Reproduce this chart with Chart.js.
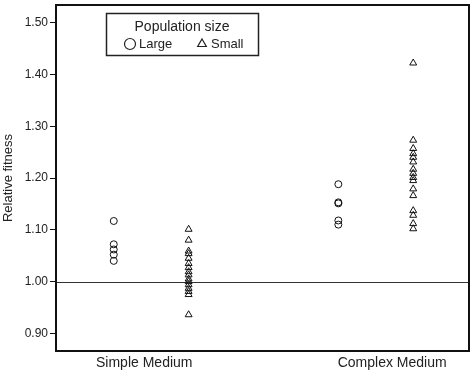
<!DOCTYPE html>
<html>
<head>
<meta charset="utf-8">
<script src="https://cdn.jsdelivr.net/npm/chart.js@4.4.0/dist/chart.umd.min.js"></script>
<style>
  html, body { margin: 0; padding: 0; background: #fff; }
  #wrap { width: 474px; height: 371px; }
</style>
</head>
<body>
<div id="wrap"><canvas id="fitnessChart"></canvas></div>
<script>
// categories on the x axis
const categories = ['Simple Medium', 'Complex Medium'];

// relative fitness values, per population size and medium
const largeSimple = [1.117, 1.072, 1.062, 1.052, 1.040];
const smallSimple = [1.101, 1.080, 1.059, 1.054, 1.045, 1.035, 1.027, 1.019, 1.013, 1.005,
                     1.000, 0.994, 0.987, 0.981, 0.975, 0.936];
const largeComplex = [1.188, 1.153, 1.151, 1.118, 1.110];
const smallComplex = [1.422, 1.273, 1.257, 1.247, 1.240, 1.231, 1.217, 1.209, 1.201, 1.195,
                      1.179, 1.166, 1.137, 1.128, 1.112, 1.102];

// y axis tick labels
const yTicks = [0.90, 1.00, 1.10, 1.20, 1.30, 1.40, 1.50];
const referenceValue = 1.00;

// horizontal dodge of each group around its category label
const dodge = { Large: [-0.123, -0.217], Small: [0.179, 0.085] };

function toPoints(values, catIndex, offset) {
    return values.map(v => ({ x: catIndex + 1 + offset, y: v }));
}

const font = 'Liberation Sans, Arial, sans-serif';

// draws the frame, the 1.00 line and the boxed legend
const framePlugin = {
    id: 'frame',
    beforeDatasetsDraw(chart) {
        const { ctx, chartArea: a, scales } = chart;
        const y = scales.y.getPixelForValue(referenceValue);
        ctx.save();
        ctx.strokeStyle = '#333';
        ctx.lineWidth = 1;
        ctx.beginPath();
        ctx.moveTo(a.left, Math.round(y) + 0.5);
        ctx.lineTo(a.right, Math.round(y) + 0.5);
        ctx.stroke();
        ctx.restore();
    },
    afterDraw(chart) {
        const { ctx, chartArea: a } = chart;
        ctx.save();
        ctx.strokeStyle = '#111';
        ctx.lineWidth = 2;
        ctx.strokeRect(a.left, a.top, a.right - a.left, a.bottom - a.top);

        // legend box
        ctx.lineWidth = 1.5;
        ctx.strokeStyle = '#222';
        ctx.strokeRect(106.5, 13.5, 152, 42);
        ctx.fillStyle = '#222';
        ctx.textBaseline = 'middle';
        ctx.textAlign = 'center';
        ctx.font = '14px ' + font;
        ctx.fillText('Population size', 182, 27);
        ctx.textAlign = 'left';
        ctx.font = '13px ' + font;
        const items = chart.data.datasets.filter(d => d.showInLegend);
        const xs = [130, 202];
        items.forEach((d, i) => {
            ctx.save();
            ctx.fillStyle = 'rgba(0,0,0,0)';
            ctx.strokeStyle = '#222';
            ctx.lineWidth = 1.2;
            Chart.helpers.drawPoint(ctx, {
                pointStyle: d.pointStyle, radius: d.pointStyle === 'circle' ? 5.5 : 5, borderWidth: 1.2, rotation: 0
            }, xs[i], 44);
            ctx.restore();
            ctx.fillText(d.label, xs[i] + 9, 44);
        });
        ctx.restore();
    }
};

const pointBase = {
    showLine: false,
    backgroundColor: 'rgba(0,0,0,0)',
    borderColor: '#111',
    borderWidth: 1,
    pointHoverRadius: 4
};

new Chart(document.getElementById('fitnessChart'), {
    type: 'scatter',
    data: {
        datasets: [
            Object.assign({}, pointBase, {
                label: 'Large', showInLegend: true, pointStyle: 'circle', pointRadius: 3.5,
                data: toPoints(largeSimple, 0, dodge.Large[0]).concat(toPoints(largeComplex, 1, dodge.Large[1]))
            }),
            Object.assign({}, pointBase, {
                label: 'Small', showInLegend: true, pointStyle: 'triangle', pointRadius: 4,
                data: toPoints(smallSimple, 0, dodge.Small[0]).concat(toPoints(smallComplex, 1, dodge.Small[1]))
            })
        ]
    },
    options: {
        responsive: true,
        maintainAspectRatio: false,
        animation: false,
        layout: { padding: { top: 1, right: 4, left: 0, bottom: 0 } },
        plugins: { legend: { display: false }, tooltip: { enabled: false } },
        scales: {
            x: {
                type: 'linear',
                min: 0.644,
                max: 2.31,
                afterBuildTicks(scale) { scale.ticks = [{ value: 1 }, { value: 2 }]; },
                afterFit(scale) {
                    scale.height = 20;
                    scale.paddingLeft = 0;
                    scale.paddingRight = 0;
                },
                grid: { display: false, drawTicks: false },
                border: { display: false },
                ticks: {
                    padding: 4,
                    color: '#222',
                    font: { family: font, size: 14 },
                    callback: v => categories[v - 1]
                }
            },
            y: {
                min: 0.866,
                max: 1.534,
                afterBuildTicks(scale) { scale.ticks = yTicks.map(v => ({ value: v })); },
                afterFit(scale) {
                    scale.width = 56;
                    scale.paddingTop = 0;
                    scale.paddingBottom = 0;
                },
                grid: { drawOnChartArea: false, color: '#111', tickLength: 6, tickWidth: 1 },
                border: { display: false },
                title: {
                    display: true,
                    text: 'Relative fitness',
                    color: '#222',
                    padding: { top: 1, bottom: 0 },
                    font: { family: font, size: 13 }
                },
                ticks: {
                    padding: 2,
                    color: '#222',
                    font: { family: font, size: 12 },
                    callback: v => Number(v).toFixed(2)
                }
            }
        }
    },
    plugins: [framePlugin]
});
</script>
</body>
</html>
